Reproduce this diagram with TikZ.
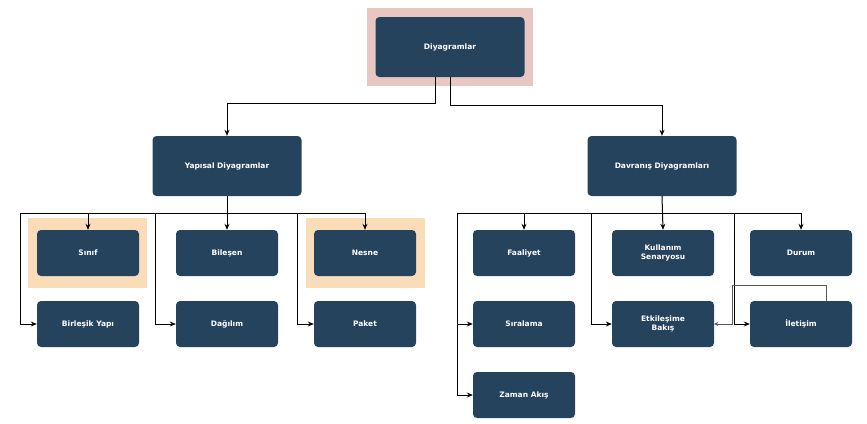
\documentclass[tikz,border=0pt]{standalone}
\usepackage{fontspec}
\setmainfont{DejaVu Sans}
\usetikzlibrary{arrows.meta}
\definecolor{nb}{HTML}{26435E}
\definecolor{pk}{HTML}{E8C6C2}
\definecolor{og}{HTML}{FADDB8}
\begin{document}
\begin{tikzpicture}[x=1pt,y=-1pt,
 box/.style={fill=nb,rounded corners=4pt,minimum width=102pt,minimum height=46pt,text=white,font=\bfseries\fontsize{7.5}{9}\selectfont,align=center,inner sep=1pt},
 big/.style={box,minimum width=149pt,minimum height=60pt},
 ln/.style={line width=1pt,-{Stealth[length=6pt,width=5pt]}},
 bus/.style={line width=1pt}]
\useasboundingbox (0,0) rectangle (867,423);
\fill[pk] (367,8) rectangle (533,86);
\fill[og] (28,218) rectangle (147,288);
\fill[og] (306,218) rectangle (425,288);
\node[big] (d) at (450,47) {Diyagramlar};
\node[big] (y) at (227,166) {Yapısal Diyagramlar};
\node[big] (v) at (662,166) {Davranış Diyagramları};
\node[box] (s) at (88,253) {Sınıf};
\node[box] (b) at (227,253) {Bileşen};
\node[box] (n) at (365,253) {Nesne};
\node[box] (by) at (88,324) {Birleşik Yapı};
\node[box] (da) at (227,324) {Dağılım};
\node[box] (pa) at (365,324) {Paket};
\node[box] (f) at (524,253) {Faaliyet};
\node[box] (k) at (663,253) {Kullanım\\Senaryosu};
\node[box] (du) at (801,253) {Durum};
\node[box] (si) at (524,324) {Sıralama};
\node[box] (e) at (663,324) {Etkileşime\\Bakış};
\node[box] (il) at (801,324) {İletişim};
\node[box] (z) at (524,395) {Zaman Akış};
\draw[ln] (d.south -| 435,0) |- (227,103) -- (y.north);
\draw[ln] (d.south -| 450,0) |- (662,105) -- (v.north);
% left
\draw[ln] (y.south) -- (b.north);
\draw[bus] (20,213) -- (365,213);
\draw[ln] (88,213) -- (s.north);
\draw[ln] (365,213) -- (n.north);
\draw[ln] (20,213) |- (by.west);
\draw[ln] (155,213) |- (da.west);
\draw[ln] (297,213) |- (pa.west);
% right
\draw[ln] (v.south) -- (k.north);
\draw[bus] (457,213) -- (801,213);
\draw[ln] (524,213) -- (f.north);
\draw[ln] (801,213) -- (du.north);
\draw[ln] (457,213) |- (si.west);
\draw[ln] (457,213) |- (z.west);
\draw[ln] (591,213) |- (e.west);
\draw[ln] (734,213) |- (il.west);
\draw[gray!70!black,line width=0.6pt,-{Stealth[length=4pt,width=4pt]}] (il.north -| 826,0) |- (732,285) |- (e.east);
\end{tikzpicture}
\end{document}
